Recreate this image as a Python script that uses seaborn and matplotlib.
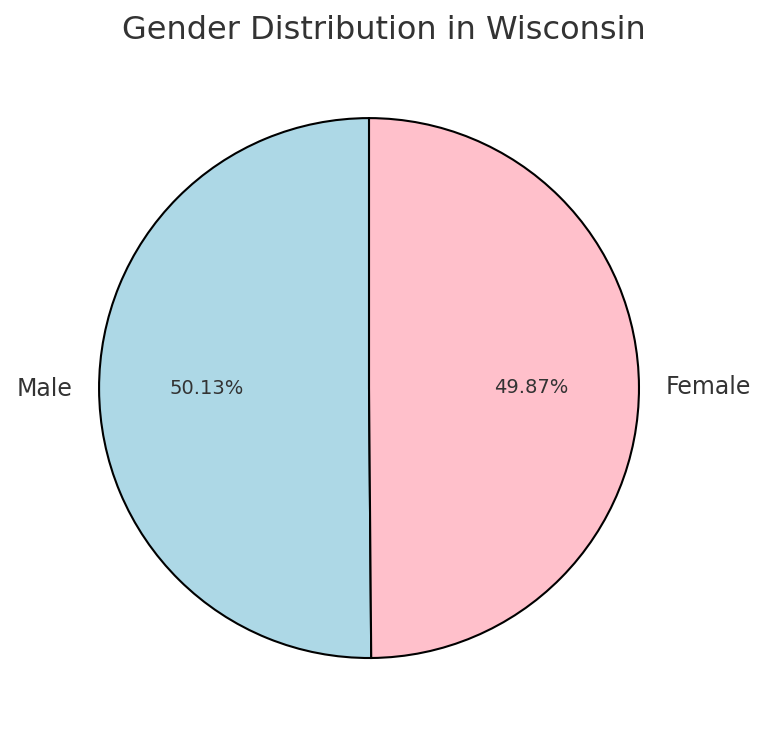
import matplotlib
matplotlib.use("Agg")
import matplotlib.pyplot as plt
import seaborn as sns

labels = ["Male", "Female"]
values = [50.13, 49.87]
colors = ["lightblue", "pink"]

sns.set_style("white")
plt.rcParams['font.family'] = ['DejaVu Sans']
plt.rcParams['text.color'] = '#333333'

fig = plt.figure(figsize=(7.68, 7.40), dpi=100)
ax = fig.add_axes([0.041, 0.0196, 0.879, 0.912])
ax.pie(values, labels=labels, colors=colors, autopct='%1.2f%%', startangle=90,
       wedgeprops={'edgecolor': 'black', 'linewidth': 1.5},
       textprops={'fontsize': 17, 'color': '#333333'})
for t in ax.texts[1::2]:
    t.set_fontsize(14)
ax.set_aspect('equal')
fig.suptitle("Gender Distribution in Wisconsin", fontsize=23, y=0.98, color='#333333')
fig.savefig("out.png", dpi=100)
